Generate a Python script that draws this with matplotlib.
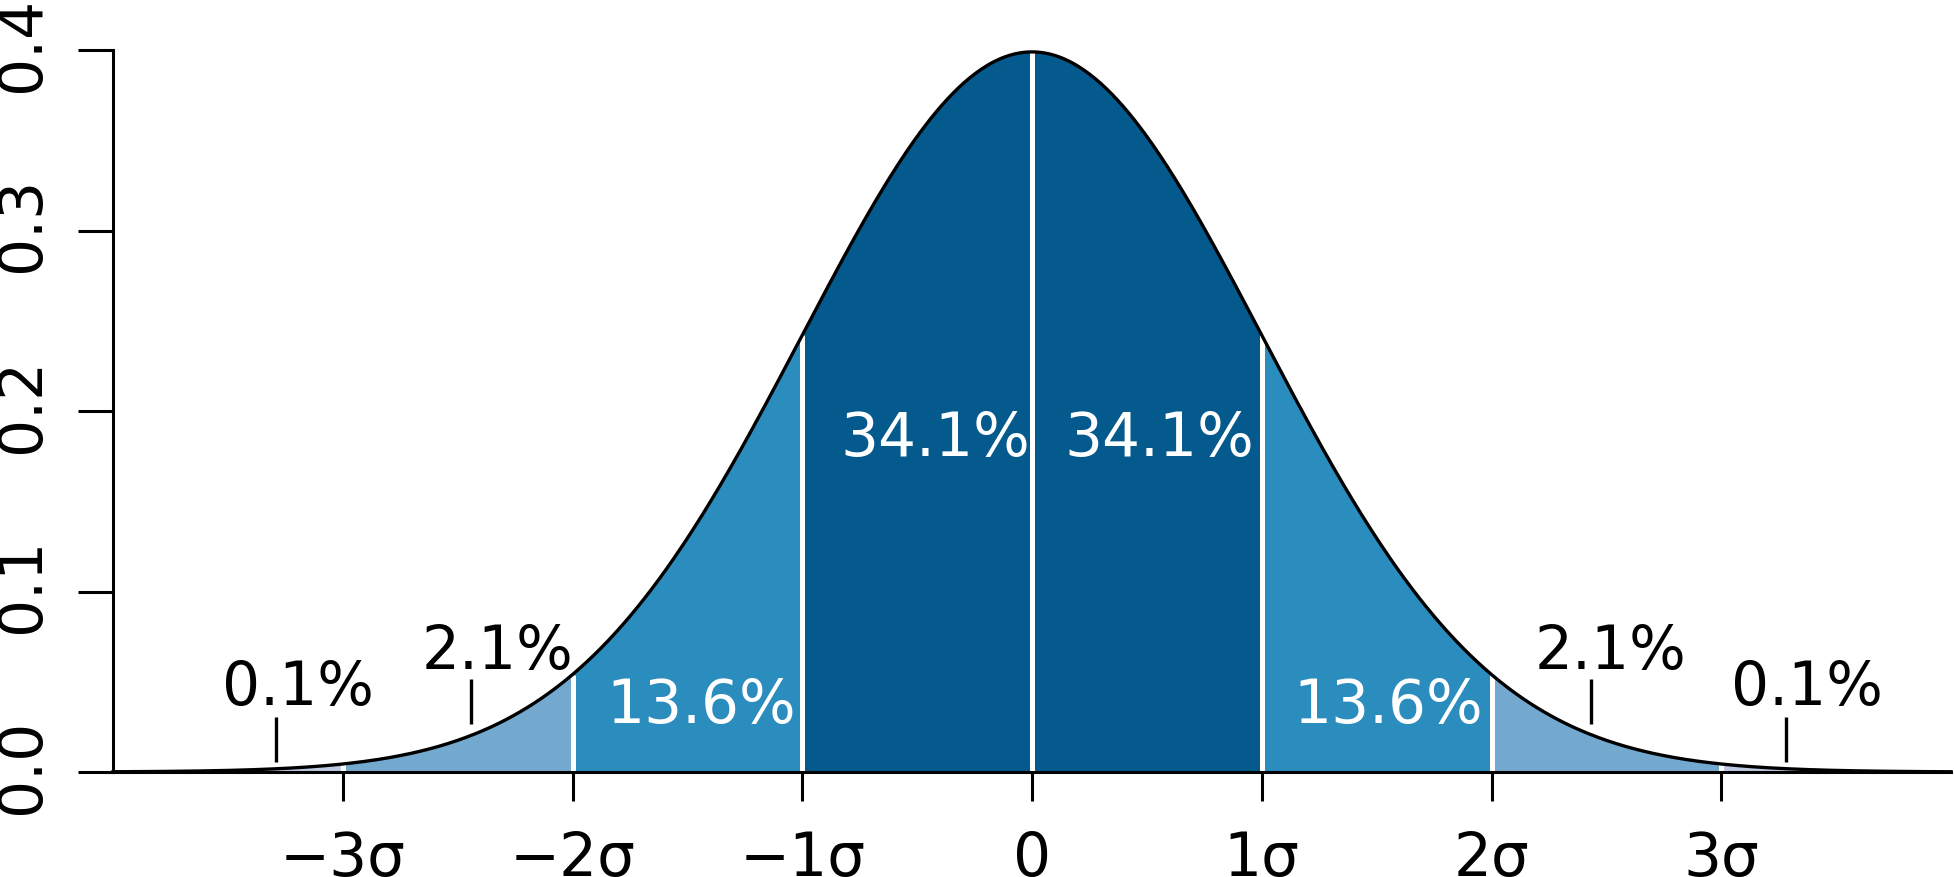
import numpy as np
import matplotlib
matplotlib.use("Agg")
import matplotlib.pyplot as plt
import matplotlib.transforms as mtransforms

# ---- data ----
sigma_ticks = [-3, -2, -1, 0, 1, 2, 3]
sigma_labels = ["\u22123\u03c3", "\u22122\u03c3", "\u22121\u03c3", "0", "1\u03c3", "2\u03c3", "3\u03c3"]
y_ticks = [0.0, 0.1, 0.2, 0.3, 0.4]
y_labels = ["0.0", "0.1", "0.2", "0.3", "0.4"]

band_edges = [-4, -3, -2, -1, 0, 1, 2, 3, 4]
band_colors = ["#bdc9e1", "#74a9cf", "#2b8cbe", "#045a8d", "#045a8d", "#2b8cbe", "#74a9cf", "#bdc9e1"]

pct_labels = ["0.1%", "2.1%", "13.6%", "34.1%", "34.1%", "13.6%", "2.1%", "0.1%"]
pct_x = [-3.196, -2.325, -1.44, -0.422, 0.553, 1.552, 2.517, 3.375]
pct_y = [0.0377, 0.0576, 0.0277, 0.1756, 0.1756, 0.0277, 0.0576, 0.0377]
pct_color = ["black", "black", "white", "white", "white", "white", "black", "black"]

marker_x = [-3.29, -2.44, 2.435, 3.28]
marker_y0 = [0.0055, 0.0266, 0.0266, 0.0055]
marker_y1 = [0.0305, 0.0515, 0.0515, 0.0305]


def pdf(x):
    return np.exp(-0.5 * np.asarray(x) ** 2) / np.sqrt(2 * np.pi)


W, H, DPI = 1954, 878, 100
FS = 43
fig = plt.figure(figsize=(W / DPI, H / DPI), dpi=DPI)
ax = fig.add_axes([113 / W, (H - 773) / H, (1951 - 113) / W, (773 - 51) / H])

for i in range(len(band_edges) - 1):
    xs = np.linspace(band_edges[i], band_edges[i + 1], 200)
    ax.fill_between(xs, 0, pdf(xs), color=band_colors[i], lw=0, zorder=1)

# white dividers
for s in sigma_ticks:
    ax.plot([s, s], [0, pdf(s)], color="white", lw=3.6, zorder=2, solid_capstyle="butt")

xc = np.linspace(-4, 4, 1000)
ax.plot(xc, pdf(xc), color="black", lw=2.4, zorder=3, clip_on=False)

for lab, x, y, c in zip(pct_labels, pct_x, pct_y, pct_color):
    ax.text(x, y, lab, ha="center", va="baseline", fontsize=FS, color=c, zorder=4)

for x, y0, y1 in zip(marker_x, marker_y0, marker_y1):
    ax.plot([x, x], [y0, y1], color="black", lw=2.4, zorder=4, solid_capstyle="butt")

ax.set_xlim(-4, 4)
ax.set_ylim(0, 0.4)
ax.spines["top"].set_visible(False)
ax.spines["right"].set_visible(False)
ax.spines["left"].set_linewidth(2.2)
ax.spines["bottom"].set_linewidth(2.2)
ax.spines["bottom"].set_zorder(5)

ax.set_xticks(sigma_ticks)
ax.set_xticklabels(sigma_labels)
ax.set_yticks(y_ticks)
ax.set_yticklabels(y_labels, rotation=90, va="center")
ax.tick_params(axis="x", length=21, width=2.2, labelsize=FS, pad=20)
ax.tick_params(axis="y", length=25.2, width=2.2, labelsize=FS, pad=19)

shift = mtransforms.ScaledTranslation(0, 7 / DPI, fig.dpi_scale_trans)
for lbl in ax.get_yticklabels():
    lbl.set_transform(lbl.get_transform() + shift)

fig.savefig("out.png", dpi=DPI)
